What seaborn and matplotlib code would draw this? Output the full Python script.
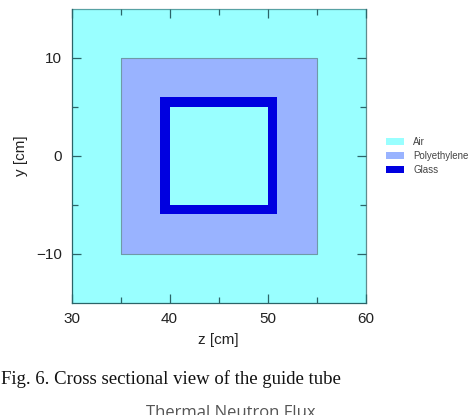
import matplotlib.pyplot as plt
import seaborn as sns
from matplotlib.patches import Patch

# regions, back to front
region_names = ["Air", "Polyethylene", "Glass", "Air"]
z_min = [30, 35, 39, 40]
z_max = [60, 55, 51, 50]
y_min = [-15, -10, -6, -5]
y_max = [15, 10, 6, 5]

legend_names = ["Air", "Polyethylene", "Glass"]
legend_colors = ["#99ffff", "#99b3ff", "#0000e0"]
colors = dict(zip(legend_names, legend_colors))

major_ticks_z = [30, 40, 50, 60]
minor_ticks_z = [35, 45, 55]
major_ticks_y = [-10, 0, 10]
minor_ticks_y = [-5, 5]

sns.set_theme(style="ticks")
plt.rcParams["font.family"] = ["Liberation Sans", "DejaVu Sans"]

W, H = 474, 415
fig = plt.figure(figsize=(W / 100, H / 100), dpi=100)
ax = fig.add_axes([71.5 / W, 1 - 302.5 / H, 294 / W, 293.5 / H])

for k, (name, z0, z1, y0, y1) in enumerate(zip(region_names, z_min, z_max, y_min, y_max)):
    ax.fill_between([z0, z1], y0, y1, color=colors[name], linewidth=0, zorder=1 + k * 0.1)

# thin outline around the polyethylene block, under the glass
i = region_names.index("Polyethylene")
outline_z = [z_min[i], z_max[i], z_max[i], z_min[i], z_min[i]]
outline_y = [y_min[i], y_min[i], y_max[i], y_max[i], y_min[i]]
sns.lineplot(x=outline_z, y=outline_y, sort=False, estimator=None,
             color="#6f9aa8", linewidth=0.8, ax=ax, zorder=1.15)

edge = "#2b6468"
ax.set_axisbelow(False)
ax.set_xlim(30, 60)
ax.set_ylim(-15, 15)
ax.set_xticks(major_ticks_z)
ax.set_xticks(minor_ticks_z, minor=True)
ax.set_yticks(major_ticks_y)
ax.set_yticks(minor_ticks_y, minor=True)
ax.set_yticklabels(["\u221210", "0", "10"])
ax.tick_params(which="major", direction="in", length=6.5, width=0.9, color=edge,
               top=True, right=True, labelsize=11, labelcolor="#222222", pad=7)
ax.tick_params(which="minor", direction="in", length=4, width=0.9, color=edge,
               top=True, right=True)
for side in ax.spines.values():
    side.set_color(edge)
    side.set_linewidth(0.9)
ax.spines["top"].set_alpha(0.6)
ax.spines["right"].set_alpha(0.75)
ax.set_xlabel("z [cm]", fontsize=11, color="#222222", labelpad=5)
ax.set_ylabel("y [cm]", fontsize=11, color="#222222", labelpad=6)

handles = [Patch(facecolor=c, edgecolor="none", label=n)
           for n, c in zip(legend_names, legend_colors)]
fig.legend(handles=handles, loc="center left", bbox_to_anchor=(386 / W, 1 - 156 / H),
           frameon=False, fontsize=7, handlelength=1.85, handleheight=0.72,
           labelspacing=0.43, handletextpad=0.93, borderpad=0, borderaxespad=0,
           labelcolor="#444444")

fig.text(1 / W, 1 - 379 / H, "Fig. 6. Cross sectional view of the guide tube",
         family=["Liberation Serif"], fontsize=13.5, color="#111111", va="center")
fig.text(231 / W, 1 - 417 / H, "Thermal Neutron Flux", family=["Open Sans"],
         fontsize=12, color="#555555", ha="center", va="baseline")

fig.savefig("out.png", dpi=100)
